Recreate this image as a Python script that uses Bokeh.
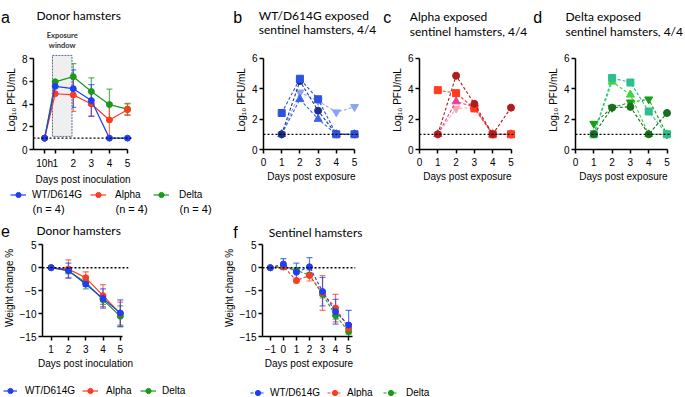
from bokeh.plotting import figure
from bokeh.models import (Range1d, FixedTicker, Span, Label, Legend, LegendItem,
                          Whisker, ColumnDataSource, TeeHead)
from bokeh.layouts import row, column
from bokeh.embed import file_html
from bokeh.resources import INLINE

# ---------------- data ----------------
# a: donor titers (log10 PFU/mL), mean and SD
days_a = [10 / 24, 1, 2, 3, 4, 5]
wt_titer = [1.0, 5.55, 5.35, 4.3, 1.0, 1.0]
wt_titer_sd = [0, 1.75, 1.65, 1.4, 0, 0]
alpha_titer = [1.0, 4.9, 4.8, 4.0, 2.6, 3.5]
alpha_titer_sd = [0, 1.65, 1.45, 1.05, 1.5, 0.5]
delta_titer = [1.0, 5.95, 6.4, 5.1, 3.95, 3.55]
delta_titer_sd = [0, 1.75, 1.15, 1.2, 1.35, 0.5]
exposure_x = [0.85, 1.93]
exposure_y = [1.15, 8.27]

# b-d: sentinel hamsters, individual animals
days_s = [1, 2, 3, 4, 5]
b_square = [2.4, 4.65, 3.3, 1.0, 1.0]
b_circle = [1.0, 4.5, 2.55, 1.0, 1.0]
b_tri_up = [1.0, 3.3, 2.0, 1.0, 1.0]
b_tri_down = [1.0, 3.75, 3.2, 2.45, 2.8]
c_square = [3.9, 3.7, 2.7, 1.0, 1.0]
c_circle = [1.0, 4.85, 3.0, 1.0, 2.75]
c_tri_up = [1.0, 3.15, 2.8, 1.0, 1.0]
c_tri_down = [1.0, 2.7, 2.75, 1.0, 1.0]
d_square = [1.0, 4.7, 4.4, 2.5, 1.0]
d_circle = [1.0, 2.75, 2.8, 1.0, 2.4]
d_tri_up = [1.0, 4.45, 3.6, 1.0, 1.0]
d_tri_down = [1.7, 2.75, 3.1, 3.3, 1.0]
detection_limit = 1.0

# e: donor weight change %
days_e = [1, 2, 3, 4, 5]
wt_w = [0, -0.6, -3.6, -6.7, -9.9]
wt_w_sd = [0, 1.6, 0.5, 2.1, 2.9]
alpha_w = [0, -0.3, -2.2, -6.1, -10.0]
alpha_w_sd = [0, 2.0, 1.3, 2.4, 2.5]
delta_w = [0, -0.7, -3.2, -7.0, -10.6]
delta_w_sd = [0, 0.6, 1.4, 1.0, 2.3]

# f: sentinel weight change %
days_f = [-1, 0, 1, 2, 3, 4, 5]
wt_f = [0, 0.8, -1.0, 0.2, -5.2, -9.6, -12.5]
wt_f_sd = [0, 1.2, 2.0, 2.0, 3.1, 2.7, 3.2]
alpha_f = [0, 0.3, -2.8, -1.7, -5.5, -8.8, -13.2]
alpha_f_sd = [0, 0.5, 0.5, 1.2, 3.8, 3.0, 1.0]
delta_f = [0, 0.2, -0.6, -1.6, -5.8, -10.4, -13.9]
delta_f_sd = [0, 0.3, 0.6, 0.5, 0.8, 0.8, 0.6]

series_names = ["WT/D614G", "Alpha", "Delta"]
BLUE = "#1f3ff5"
RED = "#ff3b1f"
GREEN = "#1a9a1a"
TICK_FONT = "Liberation Sans"
TITLE_FONT = "Lato"
W = 685


class Geo:
    def __init__(self, ox, oy, w, h, fl, ft, fw, fh, xr, yr):
        self.ox, self.oy, self.w, self.h = ox, oy, w, h
        self.fl, self.ft, self.fw, self.fh = fl, ft, fw, fh
        self.xr, self.yr = xr, yr

    def fig(self, axes=True):
        kw = {}
        if not axes:
            kw = dict(x_axis_location=None, y_axis_location=None)
        p = figure(width=self.w, height=self.h,
                   x_range=Range1d(*self.xr), y_range=Range1d(*self.yr),
                   output_backend="svg", toolbar_location=None,
                   min_border_left=self.fl, min_border_top=self.ft,
                   min_border_right=self.w - self.fl - self.fw,
                   min_border_bottom=self.h - self.ft - self.fh, **kw)
        p.outline_line_color = None
        p.xgrid.visible = False
        p.ygrid.visible = False
        return p

    def dx(self, px):
        return self.xr[0] + (px - self.ox - self.fl) / self.fw * (self.xr[1] - self.xr[0])

    def dy(self, py):
        return self.yr[0] + (self.oy + self.ft + self.fh - py) / self.fh * (self.yr[1] - self.yr[0])


def strip(oy, h):
    # full-width text strip; its data coordinates equal page pixels
    g = Geo(0, oy, W, h, 0, 0, W, h, (0, W), (oy + h, oy))
    return g, g.fig(axes=False)


def style_axes(p, xticks, yticks, xb, yb, xlabel, ylabel, overrides=None):
    p.xaxis.ticker = FixedTicker(ticks=xticks)
    p.yaxis.ticker = FixedTicker(ticks=yticks)
    p.xaxis.bounds = xb
    p.yaxis.bounds = yb
    if overrides:
        p.xaxis.major_label_overrides = overrides
    p.xaxis.axis_label = xlabel
    p.yaxis.axis_label = ylabel
    for ax in (p.xaxis, p.yaxis):
        ax.axis_line_width = 1.5
        ax.axis_line_color = "black"
        ax.major_tick_line_width = 1.5
        ax.major_tick_line_color = "black"
        ax.major_tick_out = 4
        ax.major_tick_in = 0
        ax.minor_tick_line_color = None
        ax.major_label_text_font = TICK_FONT
        ax.major_label_text_font_size = "10px"
        ax.major_label_text_color = "black"
        ax.axis_label_text_font = TICK_FONT
        ax.axis_label_text_font_size = "10px"
        ax.axis_label_text_font_style = "normal"
        ax.axis_label_text_color = "black"
        ax.axis_label_standoff = 2
    p.xaxis.major_label_standoff = 4
    p.yaxis.major_label_standoff = 2


def add_label(p, g, text, px, py, size, font=TITLE_FONT, align="left",
              baseline="alphabetic", color="black", style="normal"):
    p.add_layout(Label(x=g.dx(px), y=g.dy(py), text=text, text_font=font,
                       text_font_size=f"{size}px", text_align=align,
                       text_baseline=baseline, text_color=color,
                       text_font_style=style))


def add_legend(p, g, renderers, text, gx, cy, gw, standoff, gh=13):
    leg = Legend(items=[LegendItem(label=text, renderers=renderers)],
                 location=(round(gx - g.ox - g.fl), round((g.oy + g.ft + g.fh) - (cy + gh / 2))),
                 glyph_width=int(round(gw)), glyph_height=gh, label_height=gh,
                 label_standoff=int(round(standoff)), padding=0, margin=0, spacing=0,
                 border_line_alpha=0, background_fill_alpha=0,
                 label_text_font=TICK_FONT, label_text_font_size="10px",
                 label_text_baseline="middle", label_text_color="black")
    p.add_layout(leg)


def legend_keys(p, xs, ys, color, dash="solid"):
    # hidden copies of a series, used only as legend keys
    l = p.line(xs, ys, line_color=color, line_width=1.2, line_dash=dash)
    s = p.scatter(xs, ys, marker="circle", size=6, color=color)
    l.visible = False
    s.visible = False
    return [l, s]


def error_bars(p, xs, ys, sds, color, alpha=0.7):
    pts = [(x, y, s) for x, y, s in zip(xs, ys, sds) if s > 0]
    src = ColumnDataSource(dict(x=[t[0] for t in pts],
                                upper=[t[1] + t[2] for t in pts],
                                lower=[t[1] - t[2] for t in pts]))
    w = Whisker(base="x", upper="upper", lower="lower", source=src,
                line_color=color, line_width=1.2, line_alpha=alpha,
                upper_head=TeeHead(size=6, line_color=color, line_width=1.2, line_alpha=alpha),
                lower_head=TeeHead(size=6, line_color=color, line_width=1.2, line_alpha=alpha))
    p.add_layout(w)


# ================= top header strip (y 0-50) =================
g_h1, h1 = strip(0, 50)
for letter, lx in (("a", 0.5), ("b", 232.7), ("c", 382.7), ("d", 532.7)):
    add_label(h1, g_h1, letter, lx, 16.5, 16, font=TICK_FONT)
add_label(h1, g_h1, "Donor hamsters", 36, 15, 12)
for t1, tx, y1, y2 in (("WT/D614G exposed", 258.3, 14.7, 29.3),
                       ("Alpha exposed", 409.3, 15.7, 31),
                       ("Delta exposed", 565, 15.7, 31)):
    add_label(h1, g_h1, t1, tx, y1, 12)
    add_label(h1, g_h1, "sentinel hamsters, 4/4", tx, y2, 12)
add_label(h1, g_h1, "Exposure", 61.7, 35, 7.5, align="center", baseline="middle",
          color="#333333", style="bold")
add_label(h1, g_h1, "window", 61.7, 45, 7.5, align="center", baseline="middle",
          color="#333333", style="bold")

# ================= top plots (y 50-190) =================
TOP_OY, TOP_H, TOP_FH = 50, 140, 99

ga = Geo(0, TOP_OY, 232, TOP_H, 33, 0, 99, TOP_FH, (-0.2, -0.2 + 99 / 18.075), (0, TOP_FH / 11.375))
pa = ga.fig()
style_axes(pa, days_a, [0, 2, 4, 6, 8], (-0.2, 5), (0, 8),
           "Days post inoculation", "Log₁₀ PFU/mL", {days_a[0]: "10h"})
pa.quad(left=exposure_x[0], right=exposure_x[1], bottom=exposure_y[0], top=exposure_y[1],
        fill_color="#efefef", line_color="#5a6b8c", line_dash="2 1", line_width=1)
pa.add_layout(Span(location=detection_limit, dimension="width", line_color="black",
                   line_dash="2 2", line_width=1.3))
for ys, sd, col in [(delta_titer, delta_titer_sd, GREEN),
                    (alpha_titer, alpha_titer_sd, RED),
                    (wt_titer, wt_titer_sd, BLUE)]:
    error_bars(pa, days_a, ys, sd, col)
    pa.line(days_a, ys, line_color=col, line_width=1.2)
    pa.scatter(days_a, ys, marker="circle", size=6, color=col)


def sentinel(ox, w, fl, xscale, series):
    g = Geo(ox, TOP_OY, w, TOP_H, fl, 0, 96, TOP_FH, (0, 96 / xscale), (0, TOP_FH / 15.22))
    p = g.fig()
    style_axes(p, [0, 1, 2, 3, 4, 5], [0, 2, 4, 6], (0, 5), (0, 6),
               "Days post exposure", "Log₁₀ PFU/mL")
    p.add_layout(Span(location=detection_limit, dimension="width", line_color="black",
                      line_dash="2 2", line_width=1.3))
    for ys, col, marker, size in series:
        p.line(days_s, ys, line_color=col, line_width=1.1, line_dash="3 2")
        p.scatter(days_s, ys, marker=marker, size=size, color=col)
    return p


pb = sentinel(232, 148, 31, 18.2, [
    (b_tri_down, "#8ea2f5", "inverted_triangle", 8),
    (b_tri_up, "#3a62f0", "triangle", 8),
    (b_circle, "#1c2e8c", "circle", 7),
    (b_square, "#2f52e0", "square", 7)])
pc = sentinel(380, 150, 39, 18.3, [
    (c_tri_down, "#f4a6b0", "inverted_triangle", 8),
    (c_tri_up, "#e6409b", "triangle", 8),
    (c_square, "#ff3b1f", "square", 7),
    (c_circle, "#b01c1c", "circle", 7)])
pd_ = sentinel(530, 155, 45, 18.3, [
    (d_tri_down, "#169f16", "inverted_triangle", 8),
    (d_tri_up, "#3dd63d", "triangle", 8),
    (d_square, "#2dbe8e", "square", 7),
    (d_circle, "#1b6e1b", "circle", 7)])

# ================= legend strip a (y 190-215) =================
g_l1, l1 = strip(190, 25)
keys_a = [legend_keys(l1, days_a, ys, col) for ys, col in
          [(wt_titer, BLUE), (alpha_titer, RED), (delta_titer, GREEN)]]
for keys, name, gx, tx in zip(keys_a, series_names, (10, 90, 153), (32, 115, 179)):
    add_legend(l1, g_l1, keys, name, gx, 195, 16, tx - gx - 16)
    add_label(l1, g_l1, "(n = 4)", tx, 208, 11, font=TICK_FONT, baseline="middle")

# ================= bottom header strip (y 215-239) =================
BOT_OY = 239
g_h2, h2 = strip(215, BOT_OY - 215)
add_label(h2, g_h2, "e", 0.5, 230, 16, font=TICK_FONT)
add_label(h2, g_h2, "Donor hamsters", 36, 230, 12)
add_label(h2, g_h2, "f", 232.7, 231.7, 16, font=TICK_FONT)
add_label(h2, g_h2, "Sentinel hamsters", 268.3, 231.7, 12)

# ================= bottom plots (y 239-376) =================
BOT_H = 376 - BOT_OY
BOT_FH = 336 - BOT_OY
wy = (-15, -15 + BOT_FH / 4.585)
ge = Geo(0, BOT_OY, 215, BOT_H, 38, 0, 90, BOT_FH, (0.5, 0.5 + 90 / 18.1), wy)
pe = ge.fig()
style_axes(pe, days_e, [-15, -10, -5, 0, 5], (0.5, 5.1), (-15, 5),
           "Days post inoculation", "Weight change %")
pe.add_layout(Span(location=0, dimension="width", line_color="black",
                   line_dash="2 2", line_width=1.3))
for ys, sd, col in [(delta_w, delta_w_sd, GREEN),
                    (alpha_w, alpha_w_sd, RED),
                    (wt_w, wt_w_sd, BLUE)]:
    error_bars(pe, days_e, ys, sd, col)
    pe.line(days_e, ys, line_color=col, line_width=1.2)
    pe.scatter(days_e, ys, marker="circle", size=6, color=col)

gf = Geo(215, BOT_OY, 470, BOT_H, 47, 0, 93, BOT_FH, (-1.6, -1.6 + 93 / 13.05), wy)
pf = gf.fig()
style_axes(pf, days_f, [-15, -10, -5, 0, 5], (-1.6, 5.3), (-15, 5),
           "Days post exposure", "Weight change %")
pf.add_layout(Span(location=0, dimension="width", line_color="black",
                   line_dash="2 2", line_width=1.3))
for ys, sd, col in [(delta_f, delta_f_sd, GREEN),
                    (alpha_f, alpha_f_sd, RED),
                    (wt_f, wt_f_sd, BLUE)]:
    error_bars(pf, days_f, ys, sd, col)
    pf.line(days_f, ys, line_color=col, line_width=1.1, line_dash="3 2")
    pf.scatter(days_f, ys, marker="circle", size=6, color=col)

# ================= bottom legend strip (y 376-397) =================
g_l2, l2 = strip(376, 21)
keys_e = [legend_keys(l2, days_e, ys, col) for ys, col in
          [(wt_w, BLUE), (alpha_w, RED), (delta_w, GREEN)]]
for keys, name, gx, gw, so in zip(keys_e, series_names, (3, 82, 140), (14, 16, 16), (8, 8, 6)):
    add_legend(l2, g_l2, keys, name, gx, 390.7, gw, so)
keys_f = [legend_keys(l2, days_f, ys, col, dash="3 2") for ys, col in
          [(wt_f, BLUE), (alpha_f, RED), (delta_f, GREEN)]]
for keys, name, gx, so in zip(keys_f, series_names, (250, 327, 383), (5, 5, 8)):
    add_legend(l2, g_l2, keys, name, gx, 392.7, 15, so)

layout = column(h1, row(pa, pb, pc, pd_), l1, h2, row(pe, pf), l2)
open("out.html", "w").write(file_html(layout, INLINE))
